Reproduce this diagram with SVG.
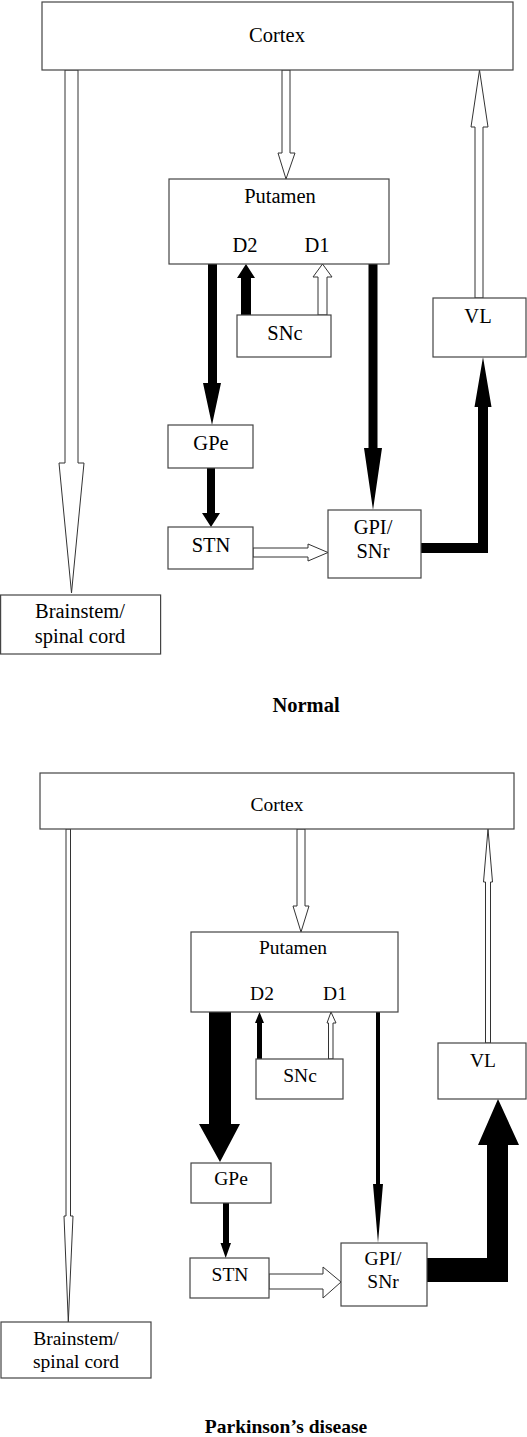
<svg xmlns="http://www.w3.org/2000/svg" width="527" height="1437" viewBox="0 0 527 1437">
<style>
.box{fill:#fff;stroke:#444;stroke-width:1.2}
.wa{fill:#fff;stroke:#333;stroke-width:1;stroke-linejoin:miter}
.ba{fill:#000;stroke:none}
.t{font-family:"Liberation Serif","Times New Roman",serif;fill:#000;text-anchor:middle}
.s1{font-size:20.5px}
.s2{font-size:19.5px}
.b{font-weight:bold}
</style>
<rect width="527" height="1437" fill="#fff"/>

<!-- ===== Normal ===== -->
<g id="connectors-normal">
  <polygon class="wa" points="65,70 78,70 78,463 84,463 71.5,593 59,463 65,463"/>
  <polygon class="wa" points="282,70 290,70 290,153 295,153 286,179 278,153 282,153"/>
  <polygon class="wa" points="475,298 483,298 483,127 488,127 479.5,70 471,127 475,127"/>
  <polygon class="ba" points="208,264 217,264 217,383 221,383 212,425 203,383 208,383"/>
  <polygon class="ba" points="241,315 251,315 251,278 255,278 246,264 237,278 241,278"/>
  <polygon class="wa" points="318,315 327,315 327,277 332,277 322.5,264 313,277 318,277"/>
  <polygon class="ba" points="368.5,264 377.5,264 377.5,448 382,448 373,510 364,448 368.5,448"/>
  <polygon class="ba" points="207,468 215,468 215,513 220,513 211,527 202,513 207,513"/>
  <polygon class="wa" points="253,548 308,548 308,544 328,552.5 308,561 308,557 253,557"/>
  <polygon class="ba" points="421,543 478,543 478,407 474.5,407 483,357 491.5,407 488,407 488,553 421,553"/>
</g>
<g id="cortex-n"><rect class="box" x="42" y="2" width="471" height="68"/><text class="t s1" x="277" y="42">Cortex</text></g>
<g id="putamen-n"><rect class="box" x="169" y="179" width="220" height="85"/><text class="t s1" x="280" y="203">Putamen</text><text class="t s1" x="245" y="252">D2</text><text class="t s1" x="317" y="252">D1</text></g>
<g id="snc-n"><rect class="box" x="237" y="315" width="94" height="42"/><text class="t s1" x="285" y="340">SNc</text></g>
<g id="vl-n"><rect class="box" x="433" y="298" width="93" height="59"/><text class="t s1" x="478" y="323">VL</text></g>
<g id="gpe-n"><rect class="box" x="168" y="425" width="85" height="43"/><text class="t s1" x="211" y="450">GPe</text></g>
<g id="stn-n"><rect class="box" x="168" y="527" width="85" height="42"/><text class="t s1" x="211" y="552">STN</text></g>
<g id="gpi-n"><rect class="box" x="328" y="510" width="93" height="68"/><text class="t s1" x="373" y="534">GPI/</text><text class="t s1" x="373" y="558">SNr</text></g>
<g id="brainstem-n"><rect class="box" x="0.6" y="595" width="160" height="59"/><text class="t s1" x="80" y="618">Brainstem/</text><text class="t s1" x="80" y="643">spinal cord</text></g>
<text class="t s1 b" x="306" y="712">Normal</text>

<!-- ===== Parkinson's ===== -->
<g id="connectors-pd">
  <polygon class="wa" points="66,829 70.5,829 70.5,1216 73,1216 68.3,1322 64,1216 66,1216"/>
  <polygon class="wa" points="297,829 305,829 305,906 309,906 301,932 293,906 297,906"/>
  <polygon class="wa" points="485.5,1043 490.5,1043 490.5,882 492.5,882 488,829 483.5,882 485.5,882"/>
  <polygon class="ba" points="209,1012 231,1012 231,1124 240,1124 220,1162 199,1124 209,1124"/>
  <polygon class="ba" points="257,1059 262,1059 262,1023 264,1023 259.5,1012 255,1023 257,1023"/>
  <polygon class="wa" points="328.5,1059 333,1059 333,1023 336,1023 331,1012 327,1023 328.5,1023"/>
  <polygon class="ba" points="376,1012 380,1012 380,1184 383,1184 378,1243 373,1184 376,1184"/>
  <polygon class="ba" points="223,1203 229,1203 229,1243 231,1243 225.7,1258 220.5,1243 223,1243"/>
  <polygon class="wa" points="269,1274 323,1274 323,1267 341,1282 323,1298 323,1289 269,1289"/>
  <polygon class="ba" points="427,1258 487,1258 487,1145 478,1145 498,1099 519,1145 508,1145 508,1282 427,1282"/>
</g>
<g id="cortex-p"><rect class="box" x="40" y="773" width="474" height="56"/><text class="t s2" x="277" y="811">Cortex</text></g>
<g id="putamen-p"><rect class="box" x="191" y="932" width="207" height="80"/><text class="t s2" x="293" y="954">Putamen</text><text class="t s2" x="262" y="1000">D2</text><text class="t s2" x="335" y="1000">D1</text></g>
<g id="snc-p"><rect class="box" x="256" y="1059" width="87" height="40"/><text class="t s2" x="300" y="1082">SNc</text></g>
<g id="vl-p"><rect class="box" x="438" y="1043" width="88" height="56"/><text class="t s2" x="483" y="1067">VL</text></g>
<g id="gpe-p"><rect class="box" x="191" y="1163" width="80" height="40"/><text class="t s2" x="231" y="1185">GPe</text></g>
<g id="stn-p"><rect class="box" x="190" y="1258" width="79" height="40"/><text class="t s2" x="230" y="1281">STN</text></g>
<g id="gpi-p"><rect class="box" x="341" y="1243" width="86" height="63"/><text class="t s2" x="383" y="1265">GPI/</text><text class="t s2" x="383" y="1288">SNr</text></g>
<g id="brainstem-p"><rect class="box" x="1" y="1322" width="150" height="56"/><text class="t s2" x="76" y="1345">Brainstem/</text><text class="t s2" x="76" y="1368">spinal cord</text></g>
<text class="t s2 b" x="286" y="1433">Parkinson’s disease</text>
</svg>
